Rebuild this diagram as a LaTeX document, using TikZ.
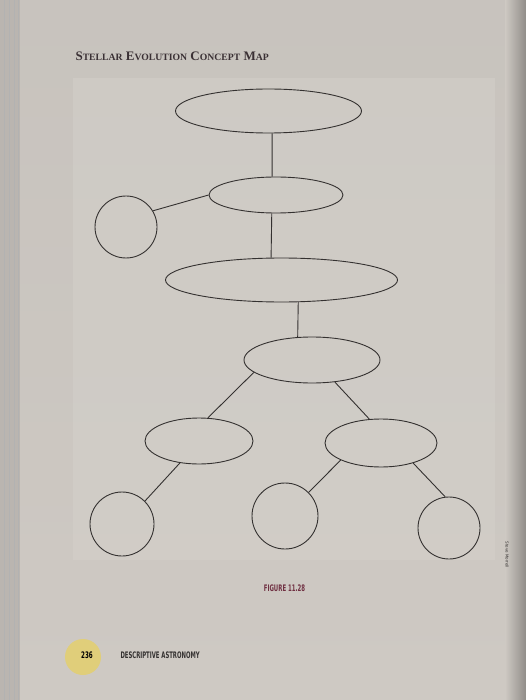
\documentclass[tikz,border=0pt]{standalone}
\usepackage{fontspec}
\usepackage{graphicx}
\usetikzlibrary{shapes.geometric}

\definecolor{paper}{RGB}{206,201,195}
\definecolor{paperlight}{RGB}{214,211,205}
\definecolor{edge}{RGB}{186,181,176}
\definecolor{ink}{RGB}{52,49,48}
\definecolor{titleink}{RGB}{58,48,52}
\definecolor{figink}{RGB}{112,48,66}
\definecolor{tab}{RGB}{224,206,122}
\newfontfamily\labelfont{DejaVu Sans}
\newfontfamily\headfont{Liberation Serif}
\newcommand{\smcap}[1]{{\fontsize{9.7}{10}\selectfont #1}}

\begin{document}
\begin{tikzpicture}[
                x=1pt, y=-1pt,
                concept/.style={ellipse, draw=ink, line width=0.9pt, inner sep=0pt},
                detail/.style={circle, draw=ink, line width=0.9pt, inner sep=0pt},
                link/.style={draw=ink, line width=0.9pt},
                caption/.style={font=\labelfont\bfseries\fontsize{9}{10}\selectfont}
                ]
                % Page
                \useasboundingbox (0,0) rectangle (526,700);
                \shade[top color=paper!92!gray, bottom color=paper] (0,0) rectangle (526,700);
                \fill[paperlight, opacity=0.45] (73,78) rectangle (495,560);
                \fill[edge] (0,0) rectangle (20,700);
                \foreach \x in {4,9,14,18} \draw[gray!60, line width=0.3pt] (\x,0) -- (\x,700);
                \shade[left color=paper, right color=paper!70!black] (505,0) rectangle (526,700);

                % Title
                \node[anchor=west, text=titleink, font=\headfont\bfseries\fontsize{13}{14}\selectfont] (title) at (72,56)
                  {S\smcap{TELLAR} E\smcap{VOLUTION} C\smcap{ONCEPT} M\smcap{AP}};

                % Concept ovals
                \node[concept, minimum width=186pt, minimum height=44pt] (e1) at (268.5,111) {};
                \node[concept, minimum width=134pt, minimum height=36pt] (e2) at (276,195) {};
                \node[concept, minimum width=232pt, minimum height=44pt] (e3) at (281.5,280) {};
                \node[concept, minimum width=136pt, minimum height=46pt] (e4) at (312,360) {};
                \node[concept, minimum width=108pt, minimum height=46pt] (e5) at (199,441) {};
                \node[concept, minimum width=112pt, minimum height=48pt] (e6) at (381,443) {};

                % Detail circles
                \node[detail, minimum size=62pt] (c0) at (126,227) {};
                \node[detail, minimum size=64pt] (c1) at (122,524) {};
                \node[detail, minimum size=66pt] (c2) at (285,516) {};
                \node[detail, minimum size=62pt] (c3) at (449,528) {};

                % Connectors
                \draw[link] (e1.279) -- (e2.102.5);
                \draw[link] (e2.257.5) -- (e3.115.5);
                \draw[link] (e3.307) -- (e4.122);
                \draw[link] (c0.31) -- (e2.180);
                \draw[link] (e4.192) -- (e5.69);
                \draw[link] (e4.316) -- (e6.116);
                \draw[link] (e5.229) -- (c1.45);
                \draw[link] (e6.203) -- (c2.45);
                \draw[link] (e6.328) -- (c3.97);

                % Caption and footer
                \node[caption, text=figink] (fig) at (284.5,588) {\scalebox{0.6}[1]{FIGURE 11.28}};
                \node[anchor=west, font=\labelfont\fontsize{4}{5}\selectfont, text=ink, rotate=-90] (credit) at (507,538) {Steve Morrell};
                \fill[tab] (83,657) circle (18);
                \node[caption, text=black] (page) at (87,655) {\scalebox{0.62}[1]{236}};
                \node[caption, text=ink, anchor=west] (book) at (117,655) {\scalebox{0.59}[1]{DESCRIPTIVE ASTRONOMY}};
\end{tikzpicture}
\end{document}
